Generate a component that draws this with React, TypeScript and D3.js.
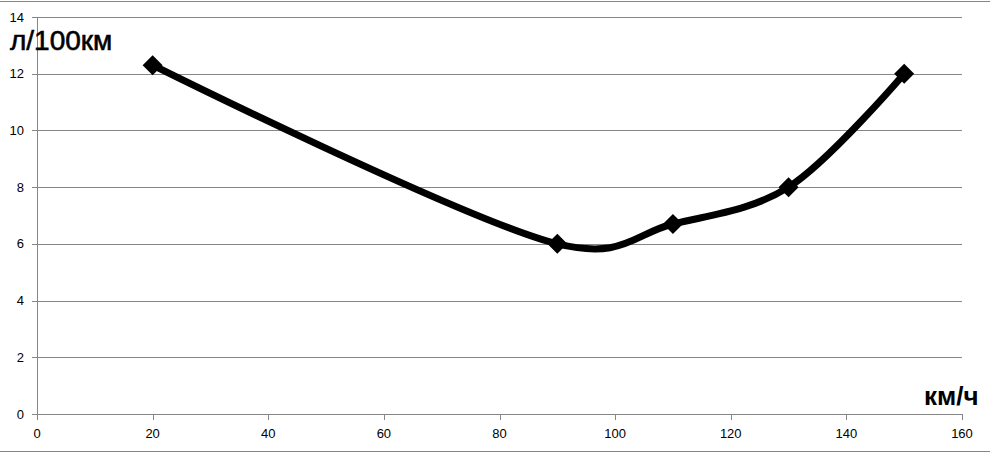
import React from "react";
import * as d3 from "d3";

const speeds = [20, 90, 110, 130, 150];
const consumption = [12.3, 6, 6.7, 8, 12];
const yTicks = [0, 2, 4, 6, 8, 10, 12, 14];
const xTicks = [0, 20, 40, 60, 80, 100, 120, 140, 160];
const yTitle = "л/100км";
const xTitle = "км/ч";

export default function App() {
  const W = 990, H = 453;
  const x = d3.scaleLinear().domain([0, 160]).range([37, 962]);
  const y = d3.scaleLinear().domain([0, 14]).range([414, 17]);
  const pts = speeds.map((s, i) => [x(s), y(consumption[i])] as [number, number]);
  const line = d3.line().curve(d3.curveCatmullRom.alpha(0.2))(pts) || "";
  const grid = "#868686";
  const font = "Liberation Sans, Arial, sans-serif";
  return (
    <svg width={W} height={H} style={{ position: "fixed", left: 0, top: 0, background: "#fff" }}>
      <rect x={0} y={0} width={W} height={H} fill="#fff" />
      <line x1={0} x2={W} y1={1.5} y2={1.5} stroke={grid} strokeWidth={1} />
      <line x1={0} x2={W} y1={451.5} y2={451.5} stroke={grid} strokeWidth={1} />
      {yTicks.map((t) => (
        <g key={"y" + t}>
          <line x1={32} x2={962} y1={Math.round(y(t)) + 0.5} y2={Math.round(y(t)) + 0.5} stroke={grid} strokeWidth={1} />
          <text x={24} y={y(t) + 4.5} textAnchor="end" fontFamily={font} fontSize={13} fill="#000">{t}</text>
        </g>
      ))}
      <line x1={37.5} x2={37.5} y1={y(14)} y2={y(0)} stroke={grid} strokeWidth={1} />
      {xTicks.map((t) => (
        <g key={"x" + t}>
          <line x1={Math.round(x(t)) + 0.5} x2={Math.round(x(t)) + 0.5} y1={414} y2={420} stroke={grid} strokeWidth={1} />
          <text x={x(t)} y={438} textAnchor="middle" fontFamily={font} fontSize={13} fill="#000">{t}</text>
        </g>
      ))}
      <path d={line} fill="none" stroke="#000" strokeWidth={7} strokeLinejoin="round" strokeLinecap="round" />
      {pts.map(([px, py], i) => (
        <path key={"m" + i} d={`M${px},${py - 10}L${px + 10},${py}L${px},${py + 10}L${px - 10},${py}Z`} fill="#000" />
      ))}
      <text x={10} y={50} fontFamily={font} fontSize={28} fill="#000" stroke="#000" strokeWidth={0.6}>{yTitle}</text>
      <text x={924} y={405} fontFamily={font} fontSize={26} fontWeight="bold" fill="#000">{xTitle}</text>
    </svg>
  );
}
